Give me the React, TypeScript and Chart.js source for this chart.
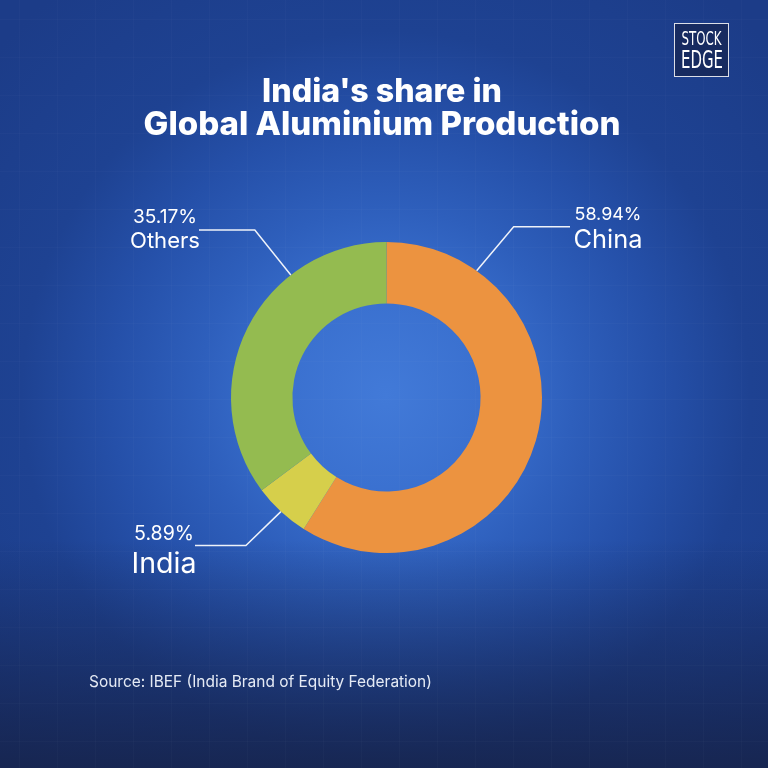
import React, { useEffect, useRef } from "react";
import { Chart, registerables } from "chart.js";

Chart.register(...registerables);

// ---- data ----
const categories = ["China", "India", "Others"];
const shares = [58.94, 5.89, 35.17];
const shareLabels = ["58.94%", "5.89%", "35.17%"];
const sliceColors = ["#ec9340", "#d6cf4b", "#94bb50"];
const titleLines = ["India's share in", "Global Aluminium Production"];
const sourceText = "Source: IBEF (India Brand of Equity Federation)";
const logoLines = ["STOCK", "EDGE"];

// ---- callout layout (styles/positions only) ----
type Callout = {
  frac: number; // where along the arc the leader touches
  elbow: [number, number]; // offset from anchor
  endX: number;
  textX: number;
  pctBase: number;
  pctW: number;
  nameBase: number;
  nameW: number;
};
const callouts: Callout[] = [
  { frac: 0.167, elbow: [37, -44], endX: 570, textX: 608, pctBase: 220, pctW: 67, nameBase: 248, nameW: 69 },
  { frac: 0.5, elbow: [-35, 34], endX: 195, textX: 164, pctBase: 540, pctW: 60, nameBase: 573, nameW: 65 },
  { frac: 0.7, elbow: [-36, -45], endX: 199, textX: 165, pctBase: 223, pctW: 64, nameBase: 248, nameW: 70 },
];

const FAMILY = "Inter, 'Noto Sans', sans-serif";

function fitFont(ctx: CanvasRenderingContext2D, text: string, weight: string, family: string, width: number) {
  ctx.font = `${weight} 100px ${family}`;
  const m = ctx.measureText(text).width;
  const size = (100 * width) / m;
  ctx.font = `${weight} ${size.toFixed(2)}px ${family}`;
  return size;
}

const backgroundPlugin = {
  id: "bg",
  beforeDraw(chart: any) {
    const ctx: CanvasRenderingContext2D = chart.ctx;
    const w = chart.width;
    const h = chart.height;
    ctx.save();
    ctx.fillStyle = "#1c3d8a";
    ctx.fillRect(0, 0, w, h);
    const g = ctx.createRadialGradient(386, 395, 0, 386, 395, 520);
    g.addColorStop(0, "#427ad8");
    g.addColorStop(0.2, "#3a70cf");
    g.addColorStop(0.36, "#2e5fbc");
    g.addColorStop(0.53, "#2550a9");
    g.addColorStop(0.7, "#1e4292");
    g.addColorStop(1, "#1c3c88");
    ctx.fillStyle = g;
    ctx.fillRect(0, 0, w, h);
    const lg = ctx.createLinearGradient(0, 540, 0, h);
    lg.addColorStop(0, "rgba(20,32,70,0)");
    lg.addColorStop(1, "rgba(22,34,72,0.85)");
    ctx.fillStyle = lg;
    ctx.fillRect(0, 540, w, h - 540);
    // faint grid
    ctx.strokeStyle = "rgba(255,255,255,0.018)";
    ctx.lineWidth = 1;
    for (let x = 19.5; x < w; x += 38) {
      ctx.beginPath();
      ctx.moveTo(x, 0);
      ctx.lineTo(x, h);
      ctx.stroke();
    }
    for (let y = 19.5; y < h; y += 38) {
      ctx.beginPath();
      ctx.moveTo(0, y);
      ctx.lineTo(w, y);
      ctx.stroke();
    }
    ctx.restore();
  },
};

const annotationPlugin = {
  id: "annot",
  afterDraw(chart: any) {
    const ctx: CanvasRenderingContext2D = chart.ctx;
    ctx.save();
    ctx.fillStyle = "#ffffff";
    ctx.textBaseline = "alphabetic";

    // title
    ctx.textAlign = "center";
    fitFont(ctx, titleLines[0], "800", FAMILY, 240);
    ctx.fillText(titleLines[0], 382, 102);
    fitFont(ctx, titleLines[1], "800", FAMILY, 477);
    ctx.fillText(titleLines[1], 382, 135);

    // callouts
    const meta = chart.getDatasetMeta(0);
    meta.data.forEach((arc: any, i: number) => {
      const c = callouts[i];
      const p = arc.getProps(["x", "y", "startAngle", "endAngle", "outerRadius"], true);
      const a = p.startAngle + (p.endAngle - p.startAngle) * c.frac;
      const ax = p.x + Math.cos(a) * p.outerRadius;
      const ay = p.y + Math.sin(a) * p.outerRadius;
      const ex = ax + c.elbow[0];
      const ey = ay + c.elbow[1];
      ctx.strokeStyle = "rgba(255,255,255,0.92)";
      ctx.lineWidth = 1.5;
      ctx.beginPath();
      ctx.moveTo(ax, ay);
      ctx.lineTo(ex, ey);
      ctx.lineTo(c.endX, ey);
      ctx.stroke();
      ctx.textAlign = "center";
      fitFont(ctx, shareLabels[i], "400", FAMILY, c.pctW);
      ctx.fillText(shareLabels[i], c.textX, c.pctBase);
      fitFont(ctx, categories[i], "400", FAMILY, c.nameW);
      ctx.fillText(categories[i], c.textX, c.nameBase);
    });

    // source
    ctx.textAlign = "left";
    ctx.fillStyle = "rgba(240,244,252,0.95)";
    fitFont(ctx, sourceText, "400", FAMILY, 343);
    ctx.fillText(sourceText, 89, 687);

    // logo
    ctx.fillStyle = "#172b60";
    ctx.fillRect(674, 23, 55, 54);
    ctx.strokeStyle = "rgba(255,255,255,0.85)";
    ctx.lineWidth = 1;
    ctx.strokeRect(674.5, 23.5, 54, 53);
    ctx.fillStyle = "#ffffff";
    ctx.textAlign = "center";
    ctx.font = "300 19px 'DejaVu Sans Condensed', 'DejaVu Sans', sans-serif";
    ctx.fillText(logoLines[0], 701.5, 45, 40);
    ctx.font = "300 25px 'DejaVu Sans Condensed', 'DejaVu Sans', sans-serif";
    ctx.fillText(logoLines[1], 702, 68, 42);

    ctx.restore();
  },
};

export default function App() {
  const ref = useRef<HTMLCanvasElement | null>(null);
  useEffect(() => {
    if (!ref.current) return;
    const chart = new Chart(ref.current, {
      type: "doughnut",
      data: {
        labels: categories,
        datasets: [
          {
            data: shares,
            backgroundColor: sliceColors,
            borderWidth: 0,
          },
        ],
      },
      options: {
        responsive: false,
        maintainAspectRatio: false,
        animation: false,
        cutout: "60.5%",
        layout: { padding: { left: 231, right: 226, top: 242, bottom: 215 } },
        plugins: {
          legend: { display: false },
          tooltip: { enabled: false },
          title: { display: false },
        },
      },
      plugins: [backgroundPlugin, annotationPlugin],
    } as any);
    return () => chart.destroy();
  }, []);
  return (
    <div style={{ position: "absolute", left: 0, top: 0, width: 768, height: 768 }}>
      <canvas ref={ref} width={768} height={768} style={{ display: "block", width: 768, height: 768 }} />
    </div>
  );
}
